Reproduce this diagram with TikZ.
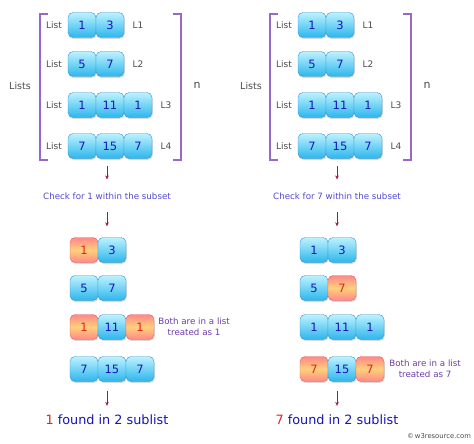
\documentclass[tikz,border=0pt]{standalone}
\usepackage{fontspec}
\setmainfont{DejaVu Sans}
\usepackage{tikz}
\usetikzlibrary{arrows.meta,shadows,positioning}
\definecolor{cellline}{HTML}{3595CC}
\definecolor{celltop}{HTML}{BDF2FF}
\definecolor{cellbot}{HTML}{2CB6EC}
\definecolor{hitline}{HTML}{E06070}
\definecolor{hittop}{HTML}{FF8888}
\definecolor{hitmid}{HTML}{FFD07A}
\definecolor{digit}{HTML}{1515B8}
\definecolor{hitdigit}{HTML}{E02222}
\definecolor{brack}{HTML}{9966CC}
\definecolor{arrowred}{HTML}{A01848}
\definecolor{note}{HTML}{5048D8}
\definecolor{notepurple}{HTML}{6A3CA8}
\definecolor{labelgrey}{HTML}{4A4A4A}
\tikzstyle{cell} = [draw=cellline, rounded corners=5pt, top color=celltop,
bottom color=cellbot, minimum width=28pt, minimum height=25pt, inner sep=0pt,
text=digit, font=\fontsize{11.5}{13}\selectfont,
drop shadow={opacity=0.3, shadow xshift=0.8pt, shadow yshift=-1.4pt}]
\tikzstyle{hit} = [cell, draw=hitline, top color=hittop, bottom color=hittop,
middle color=hitmid, text=hitdigit]
\tikzstyle{tag} = [text=labelgrey, font=\fontsize{9}{10}\selectfont]
\tikzstyle{bracket} = [draw=brack, line width=1.5pt]
\tikzstyle{arr} = [draw=arrowred, thin, -{Stealth[length=4pt,width=3.5pt]}]
\tikzstyle{check} = [text=note, inner sep=2pt, font=\fontsize{8.7}{10}\selectfont]
\tikzstyle{both} = [text=notepurple, inner sep=0pt, align=center,
font=\fontsize{8.7}{10.5}\selectfont]
\tikzstyle{result} = [text=digit, inner sep=2pt, font=\fontsize{12.8}{14}\selectfont]

\begin{document}
\begin{tikzpicture}[x=1pt, y=-1pt, node distance=28pt]
	\useasboundingbox (0,0) rectangle (474,444);
	% Left half: the four lists inside the bracket
	\node [cell] (A1a) at (82,25) {1};  \node [cell, right of=A1a] (A1b) {3};
	\node [cell] (A2a) at (82,64) {5};  \node [cell, right of=A2a] (A2b) {7};
	\node [cell] (A3a) at (82,105) {1}; \node [cell, right of=A3a] (A3b) {11};
	\node [cell, right of=A3b] (A3c) {1};
	\node [cell] (A4a) at (82,146) {7}; \node [cell, right of=A4a] (A4b) {15};
	\node [cell, right of=A4b] (A4c) {7};
	\node [tag, left of=A1a] {List}; \node [tag, right of=A1b] {L1};
	\node [tag, left of=A2a] {List}; \node [tag, right of=A2b] {L2};
	\node [tag, left of=A3a] {List}; \node [tag, right of=A3c] {L3};
	\node [tag, left of=A4a] {List}; \node [tag, right of=A4c] {L4};
	\draw [bracket] (48,14) -- (40,14) -- (40,160) -- (48,160);
	\draw [bracket] (173,14) -- (181,14) -- (181,160) -- (173,160);
	\node [tag, font=\fontsize{9.5}{11}\selectfont] (lists1) at (20,86) {Lists};
	\node [tag, font=\fontsize{11}{12}\selectfont] (n1) at (197,85) {n};
	\coordinate (Abot) at (107,166);
	\node [check] (chk1) at (107,196) {Check for 1 within the subset};

	% the same lists, the cells holding 1 marked
	\node [hit] (B1a) at (84,250) {1};  \node [cell, right of=B1a] (B1b) {3};
	\node [cell] (B2a) at (84,288) {5}; \node [cell, right of=B2a] (B2b) {7};
	\node [hit] (B3a) at (84,327) {1};  \node [cell, right of=B3a] (B3b) {11};
	\node [hit, right of=B3b] (B3c) {1};
	\node [cell] (B4a) at (84,369) {7}; \node [cell, right of=B4a] (B4b) {15};
	\node [cell, right of=B4b] (B4c) {7};
	\node [both, right=4pt of B3c] (both1) {Both are in a list\\treated as 1};
	\node [result] (res1) at (107,420) {\textcolor{hitdigit}{1} found in 2 sublist};

	% Right half: again the four lists
	\node [cell] (C1a) at (312,25) {1};  \node [cell, right of=C1a] (C1b) {3};
	\node [cell] (C2a) at (312,64) {5};  \node [cell, right of=C2a] (C2b) {7};
	\node [cell] (C3a) at (312,105) {1}; \node [cell, right of=C3a] (C3b) {11};
	\node [cell, right of=C3b] (C3c) {1};
	\node [cell] (C4a) at (312,146) {7}; \node [cell, right of=C4a] (C4b) {15};
	\node [cell, right of=C4b] (C4c) {7};
	\node [tag, left of=C1a] {List}; \node [tag, right of=C1b] {L1};
	\node [tag, left of=C2a] {List}; \node [tag, right of=C2b] {L2};
	\node [tag, left of=C3a] {List}; \node [tag, right of=C3c] {L3};
	\node [tag, left of=C4a] {List}; \node [tag, right of=C4c] {L4};
	\draw [bracket] (278,14) -- (270,14) -- (270,160) -- (278,160);
	\draw [bracket] (403,14) -- (411,14) -- (411,160) -- (403,160);
	\node [tag, font=\fontsize{9.5}{11}\selectfont] (lists2) at (251,86) {Lists};
	\node [tag, font=\fontsize{11}{12}\selectfont] (n2) at (427,85) {n};
	\coordinate (Cbot) at (337,166);
	\node [check] (chk2) at (337,196) {Check for 7 within the subset};

	% the cells holding 7 marked
	\node [cell] (D1a) at (314,250) {1}; \node [cell, right of=D1a] (D1b) {3};
	\node [cell] (D2a) at (314,288) {5}; \node [hit, right of=D2a] (D2b) {7};
	\node [cell] (D3a) at (314,327) {1}; \node [cell, right of=D3a] (D3b) {11};
	\node [cell, right of=D3b] (D3c) {1};
	\node [hit] (D4a) at (314,369) {7};  \node [cell, right of=D4a] (D4b) {15};
	\node [hit, right of=D4b] (D4c) {7};
	\node [both, right=5pt of D4c] (both2) {Both are in a list\\treated as 7};
	\node [result] (res2) at (337,420) {\textcolor{hitdigit}{7} found in 2 sublist};

	\node [text=labelgrey, font=\fontsize{6.8}{8}\selectfont] (w3r) at (439,436) {©\,w3resource.com};

	% the arrows between the steps
	\draw [arr, shorten >=11pt] (Abot) -- (chk1);
	\draw [arr, shorten <=10pt, shorten >=11pt] (chk1.south) -- (chk1.south |- B1a.north);
	\draw [arr, shorten <=9pt, shorten >=7pt] (B4b.south -| res1.north) -- (res1.north);
	\draw [arr, shorten >=11pt] (Cbot) -- (chk2);
	\draw [arr, shorten <=10pt, shorten >=11pt] (chk2.south) -- (chk2.south |- D1a.north);
	\draw [arr, shorten <=9pt, shorten >=7pt] (D4b.south -| res2.north) -- (res2.north);
\end{tikzpicture}
\end{document}
